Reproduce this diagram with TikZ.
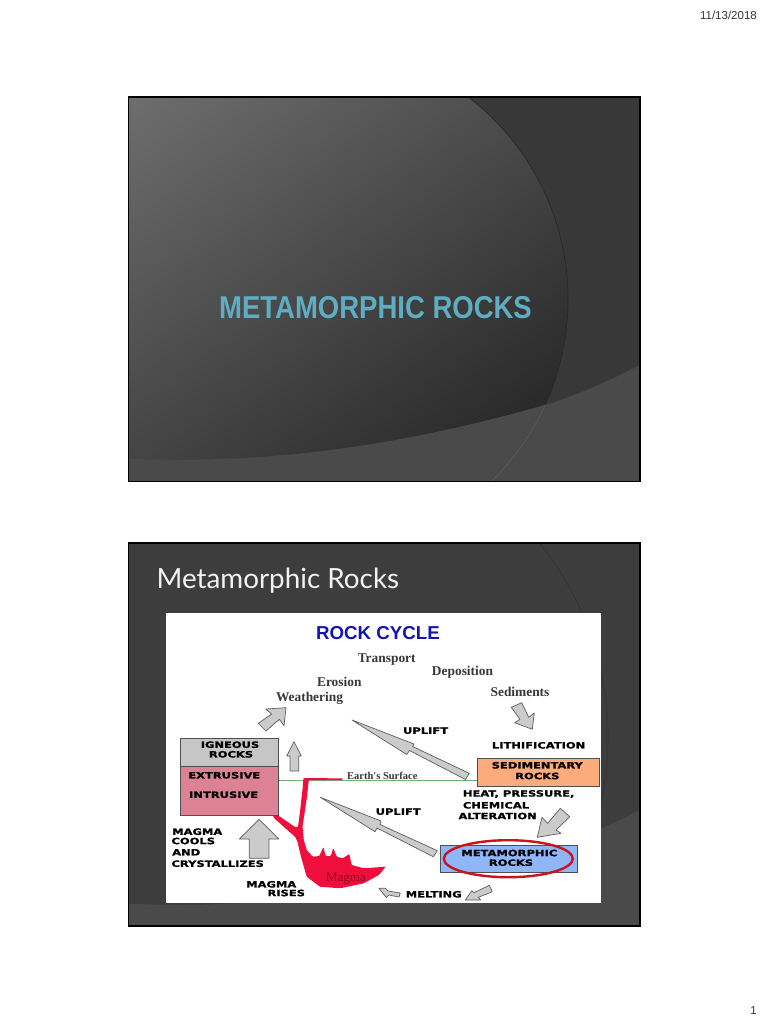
\documentclass[tikz,border=0pt]{standalone}
\usepackage{fontspec}
\setmainfont{Liberation Sans}
\newfontfamily\capfont[FakeStretch=1.32,FakeBold=1.2]{DejaVu Sans}
\newfontfamily\serfont{Liberation Serif}
\newfontfamily\lato{Lato}
\usetikzlibrary{calc,shadings}
\definecolor{arrowfill}{HTML}{CBCBCB}
\definecolor{arrowline}{HTML}{5E5E5E}
\definecolor{boxline}{HTML}{4F4F4F}
\definecolor{igray}{HTML}{C6C6C6}
\definecolor{ipink}{HTML}{DD8294}
\definecolor{sedfill}{HTML}{FBAB7C}
\definecolor{metfill}{HTML}{8FB6F6}
\definecolor{magmared}{HTML}{F00F3C}
\definecolor{ringred}{HTML}{C9141E}
\definecolor{surfgreen}{HTML}{6FB07A}
\definecolor{titleblue}{HTML}{1414B4}
\definecolor{teal1}{HTML}{5FADC2}
\tikzset{
  blockarrow/.style={draw=arrowline,fill=arrowfill,line width=0.7pt,line join=round},
  rockbox/.style={draw=boxline,line width=0.9pt},
  caplabel/.style={inner sep=0pt,text=black,font=\capfont\bfseries\fontsize{8.7}{9}\selectfont},
  serlabel/.style={inner sep=0pt,text=black!78,font=\serfont\bfseries\fontsize{13.4}{14}\selectfont},
  slideframe/.style={draw=black,line width=1.5pt},
  swoosh/.style={line width=0.6pt},
}
\begin{document}
\begin{tikzpicture}[x=1pt,y=-1pt]
\useasboundingbox (0,0) rectangle (768,1024);
\fill[white] (0,0) rectangle (768,1024);

% ---------- slide 1
\begin{scope}
  \clip (128.5,97) rectangle (640,481.5);
  \shade[upper left=black!57,lower right=black!90,upper right=black!74,lower left=black!74]
     (128.5,97) rectangle (640,481.5);
  \begin{scope}
    \clip (320,97) rectangle (640,481.5);
    \fill[even odd rule,black!78] (300,60) rectangle (660,520) (313,299.3) circle (255);
    \draw[swoosh,black!85] (313,299.3) circle (255);
  \end{scope}
  \fill[black!71] (128.5,458.7) .. controls (255,464) and (390,450) .. (552.7,402.7)
     .. controls (585,392) and (615,378) .. (640,365) -- (640,481.5) -- (128.5,481.5) -- cycle;
  \begin{scope}
    \clip (320,300) rectangle (640,481.5);
    \clip (128.5,458.7) .. controls (255,464) and (390,450) .. (552.7,402.7)
     .. controls (585,392) and (615,378) .. (640,365) -- (640,481.5) -- (128.5,481.5) -- cycle;
    \draw[swoosh,black!64] (313,299.3) circle (255);
  \end{scope}
\end{scope}
\draw[slideframe] (128.5,97) rectangle (640,481.5);
\node[inner sep=0pt,text=teal1,font=\bfseries\fontsize{27.5}{30}\selectfont] (maintitle) at (375.5,308)
  {\scalebox{1}[1.15]{METAMORPHIC ROCKS}};

% ---------- slide 2
\begin{scope}
  \clip (128.5,543) rectangle (640,926);
  \fill[black!76] (128.5,543) rectangle (640,926);
  \draw[swoosh,black!81] (299,737) circle (309);
  \fill[black!71] (128.5,903.7) .. controls (255,909) and (390,895) .. (552.7,847.7)
     .. controls (585,837) and (615,823) .. (640,810) -- (640,926) -- (128.5,926) -- cycle;
\end{scope}
\draw[slideframe] (128.5,543) rectangle (640,926);
\node[anchor=west,inner sep=0pt,text=black!5,font=\lato\fontsize{27.8}{30}\selectfont] (slidetitle) at (156.5,581) {Metamorphic Rocks};

% ---------- picture
\fill[white] (165.7,612.7) rectangle (601,902.7);
\node[inner sep=0pt,text=titleblue,font=\bfseries\fontsize{18.7}{20}\selectfont] (cycle) at (378,632.7) {ROCK CYCLE};

% surface line
\coordinate (surfL) at (278.7,780);
\coordinate (surfR) at (477.3,780);
\draw[surfgreen,line width=1pt] (surfL) -- (surfR);

% magma
\fill[magmared,rounded corners=0.8pt]
  (303.3,778) -- (342.7,778.4) -- (342.7,780) -- (308.8,780) -- (307,796.7) -- (304.5,813.3)
  -- (302.5,826.7) -- (303.8,840) -- (306.7,850) -- (312.7,856.7) -- (319.3,856) -- (323.3,847)
  -- (325.7,856) -- (330.7,856) -- (333.3,848) -- (336.7,856.7) -- (342.7,858.3) -- (349.3,854)
  -- (351.7,865) -- (363.7,868.3) -- (385.7,866.7) -- (378.9,875) -- (363.7,883.3) -- (340,888.3)
  -- (320,886.7) -- (306.7,876.7) -- (301,856.7) -- (297.3,841) -- (295,836.7) -- (275,819)
  -- (272.7,816) -- (279,816) -- (295,827) -- (298,827) -- (300.2,810) -- (302.8,786.7)
  -- (303.3,780) -- cycle;

% boxes
\node[rockbox,fill=igray,minimum width=98pt,minimum height=28.4pt,inner sep=0pt] (igneous) at (229.7,752.5) {};
\node[rockbox,fill=ipink,minimum width=98pt,minimum height=49pt,inner sep=0pt] (extr) at (229.7,791.2) {};
\node[rockbox,fill=sedfill,minimum width=122.4pt,minimum height=28pt,inner sep=0pt] (sedbox) at (538.5,772) {};
\node[rockbox,fill=metfill,draw=boxline,minimum width=137pt,minimum height=27.3pt,inner sep=0pt] (metbox) at (509.2,858.7) {};
\draw[ringred,line width=2.4pt] (508.3,858.7) ellipse (64.5 and 18.5);

% block arrows
\draw[blockarrow] (286,707.7) -- (284,725.7) -- (279.3,719.3) -- (266,731) -- (258.3,723.3) -- (271.7,714) -- (265.7,709) -- cycle;
\draw[blockarrow] (294,741.7) -- (301.3,756) -- (298.7,756) -- (298.7,771) -- (290,771) -- (290,756) -- (286.7,756) -- cycle;
\draw[blockarrow] (259,819.3) -- (279,839) -- (269,839) -- (269,858.3) -- (249.3,858.3) -- (249.3,839) -- (239.3,839) -- cycle;
\draw[blockarrow] (352,720) -- (414,744) -- (412.5,746.5) -- (469.3,773.3) -- (465.5,779.5) -- (409.5,750.5) -- (406.7,754.5) -- cycle;
\draw[blockarrow] (320.3,797.3) -- (381,821) -- (380,824.5) -- (437.3,850.7) -- (433.3,856.7) -- (377,828) -- (375,831.7) -- cycle;
\draw[blockarrow] (532.3,729.3) -- (534.3,713) -- (528.7,717.3) -- (521.7,702.7) -- (511.3,707.3) -- (520,719.3) -- (514.7,722.7) -- cycle;
\draw[blockarrow] (537.3,837.3) -- (542,817.3) -- (547.7,823.3) -- (560.3,808.3) -- (569.7,816.7) -- (556,830) -- (561,833.3) -- cycle;
\draw[blockarrow] (465.3,900) -- (471.7,890.7) -- (474,892.7) -- (489.3,885.3) -- (492.3,891.7) -- (478.3,897.3) -- (480.7,900) -- cycle;
\draw[blockarrow] (378.9,888.3) -- (385.6,888.3) -- (388,891) -- (400.2,893) -- (399,897) -- (389,895) -- (386.3,897.5) -- cycle;

% capital labels
\node[caplabel] (ig1) at (230,744.7) {IGNEOUS};
\node[caplabel] (ig2) at (231,754.3) {ROCKS};
\node[caplabel] (ex) at (224.3,775.3) {EXTRUSIVE};
\node[caplabel] (in) at (223.7,794.7) {INTRUSIVE};
\node[caplabel] (up1) at (425.6,730.7) {UPLIFT};
\node[caplabel] (up2) at (398.2,811.7) {UPLIFT};
\node[caplabel] (lith) at (538.6,745.3) {LITHIFICATION};
\node[caplabel] (sed1) at (537.3,765.3) {SEDIMENTARY};
\node[caplabel] (sed2) at (537.3,776) {ROCKS};
\node[caplabel,anchor=west] (heat) at (462.7,794) {HEAT, PRESSURE,};
\node[caplabel,anchor=west] (chem) at (462.7,805.3) {CHEMICAL};
\node[caplabel,anchor=west] (alt) at (458.3,816) {ALTERATION};
\node[caplabel] (met1) at (509.3,853) {METAMORPHIC};
\node[caplabel] (met2) at (511,862.7) {ROCKS};
\node[caplabel] (melt) at (433.7,894.3) {MELTING};
\node[caplabel,anchor=west] (cool1) at (172,831.7) {MAGMA};
\node[caplabel,anchor=west] (cool2) at (171.3,841) {COOLS};
\node[caplabel,anchor=west] (cool3) at (172,852.3) {AND};
\node[caplabel,anchor=west] (cool4) at (171.3,863.7) {CRYSTALLIZES};
\node[caplabel,anchor=west] (rise1) at (246,884.3) {MAGMA};
\node[caplabel,anchor=west] (rise2) at (267.3,893) {RISES};

% serif labels
\node[serlabel] (transport) at (386.7,660) {Transport};
\node[serlabel] (deposition) at (462.5,672) {Deposition};
\node[serlabel] (erosion) at (339.3,681.7) {Erosion};
\node[serlabel] (weathering) at (309.5,698.7) {Weathering};
\node[serlabel] (sediments) at (520,692.3) {Sediments};
\node[serlabel,font=\serfont\bfseries\fontsize{10.5}{11}\selectfont] (earth) at (382.3,775.7) {Earth's Surface};
\node[inner sep=0pt,text=magmared!60!black,font=\serfont\fontsize{13}{14}\selectfont] (magma) at (346,878.3) {Magma};

% page furniture
\node[anchor=east,inner sep=0pt,text=black!80,font=\fontsize{11.5}{12}\selectfont] (date) at (757,15) {11/13/2018};
\node[anchor=east,inner sep=0pt,text=black!80,font=\fontsize{11.5}{12}\selectfont] (page) at (757,1011) {1};
\end{tikzpicture}
\end{document}
